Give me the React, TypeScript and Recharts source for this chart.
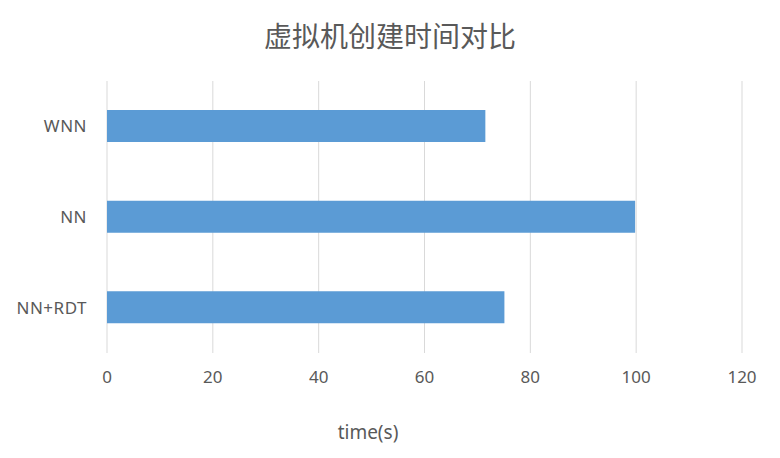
import React from "react";
import {
  BarChart,
  Bar,
  XAxis,
  YAxis,
  CartesianGrid,
} from "recharts";

const categories = ["WNN", "NN", "NN+RDT"];
const times = [71.5, 99.8, 75.1];
const xTicks = [0, 20, 40, 60, 80, 100, 120];

const data = categories.map((name, i) => ({ name, time: times[i] }));

const TEXT = "#595959";
const FONT = "'Noto Sans', 'Noto Sans CJK SC', sans-serif";

export default function App() {
  return (
    <div
      style={{
        position: "absolute",
        left: 0,
        top: 0,
        width: 780,
        height: 458,
        background: "#fff",
        fontFamily: FONT,
      }}
    >
      <div
        style={{
          position: "absolute",
          top: 20,
          left: 0,
          width: 780,
          lineHeight: "30px",
          textAlign: "center",
          fontSize: 28,
          color: TEXT,
          fontFamily: "'Noto Sans CJK SC', sans-serif",
        }}
      >
        虚拟机创建时间对比
      </div>

      <BarChart
        width={780}
        height={458}
        data={data}
        layout="vertical"
        margin={{ top: 81, right: 38, bottom: 0, left: 0 }}
        barSize={32}
      >
        <CartesianGrid horizontal={false} stroke="#d9d9d9" />
        <XAxis
          type="number"
          domain={[0, 120]}
          ticks={xTicks}
          axisLine={false}
          tickLine={false}
          tickSize={0}
          tickMargin={18}
          height={105}
          tick={{ fill: TEXT, fontSize: 17, fontFamily: FONT }}
        />
        <YAxis
          type="category"
          dataKey="name"
          width={107}
          axisLine={false}
          tickLine={false}
          tickSize={0}
          tickMargin={20}
          tick={{ fill: TEXT, fontSize: 17, fontFamily: FONT, letterSpacing: 0.5 }}
        />
        <Bar dataKey="time" fill="#5B9BD5" isAnimationActive={false} />
      </BarChart>

      <div
        style={{
          position: "absolute",
          top: 420,
          left: 268,
          width: 200,
          lineHeight: "24px",
          textAlign: "center",
          fontSize: 19,
          color: TEXT,
        }}
      >
        time(s)
      </div>
    </div>
  );
}
